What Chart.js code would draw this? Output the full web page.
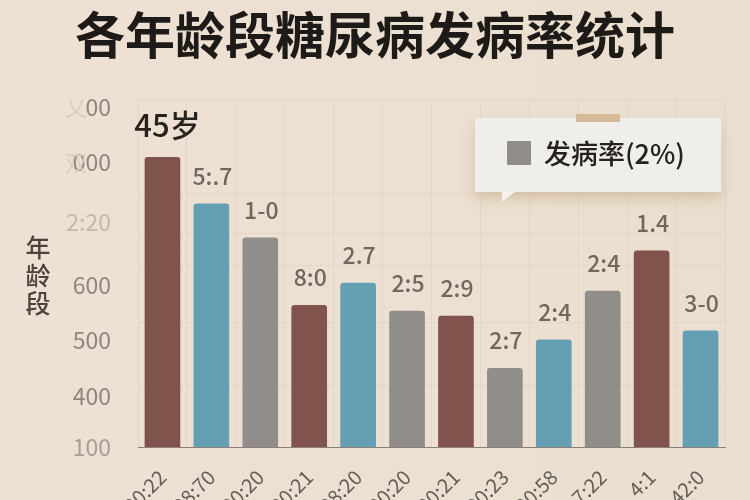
<!DOCTYPE html>
<html>
<head>
<meta charset="utf-8">
<title>各年龄段糖尿病发病率统计</title>
<script src="https://cdn.jsdelivr.net/npm/chart.js@4"></script>
<style>
html, body { margin: 0; padding: 0; width: 750px; height: 500px; overflow: hidden; }
body { background: linear-gradient(90deg, #efe0d4 0%, #ece0d2 50%, #eadfcf 100%); position: relative; font-family: "Noto Sans CJK SC", sans-serif; }
canvas { position: absolute; left: 0; top: 0; }
#legend { position: absolute; left: 475px; top: 118px; width: 246px; height: 74px; background: #f0eeea; box-shadow: 0 7px 12px rgba(190, 160, 125, 0.45); }
#legend .tape { position: absolute; left: 101px; top: -4px; width: 44px; height: 8px; background: #d4ba9b; }
#legend .tail { position: absolute; left: 27px; top: 74px; width: 0; height: 0; border-top: 10px solid #f5efe6; border-right: 13px solid transparent; }
#legend .swatch { position: absolute; left: 32px; top: 23px; width: 24px; height: 24px; background: #908d8b; border-radius: 1px; }
#legend .label { position: absolute; left: 69px; top: 17px; font-size: 27px; font-weight: 500; line-height: 36px; color: #24211e; white-space: nowrap; }
</style>
</head>
<body>
<canvas id="chart" width="750" height="500"></canvas>
<div id="legend"><div class="tape"></div><div class="tail"></div><div class="swatch"></div><div class="label">发病率(2%)</div></div>
<script>
const categories = ['00:22', '08:70', '00:20', '00:21', '08:20', '00:20', '00:21', '00:23', '00:58', '7:22', '4:1', '42:0'];
const rates = [811, 729, 669, 550, 589, 540, 531, 439, 489, 575, 646, 505];
const barLabels = ['45岁', '5:.7', '1-0', '8:0', '2.7', '2:5', '2:9', '2:7', '2:4', '2:4', '1.4', '3-0'];
const barColors = ['#80534d', '#659fb3', '#908d8b', '#80534d', '#659fb3', '#908d8b', '#80534d', '#908d8b', '#659fb3', '#908d8b', '#80534d', '#659fb3'];
const yTickValues = [300, 390, 489, 586, 697, 803, 900];
const yTickLabels = ['100', '400', '500', '600', '2:20', '000', '00'];
const yTickColors = ['#a79e93', '#8f877c', '#8f877c', '#8f877c', '#c4b9ab', '#8f877c', '#8f877c'];
const gridValues = [409, 520, 621, 677, 748, 914];
const ghostGlyphs = ['乂', '双'];

const font = '"Noto Sans CJK SC", "Noto Sans", sans-serif';

// values above the bars, the stacked axis title and the faint marks beside the ticks
const extras = {
    id: 'extras',
    afterDatasetsDraw(chart) {
        const ctx = chart.ctx;
        const bars = chart.getDatasetMeta(0).data;
        ctx.save();
        ctx.textAlign = 'center';
        bars.forEach((bar, i) => {
            if (i === 0) {
                ctx.font = '500 31px ' + font;
                ctx.fillStyle = '#26221e';
                ctx.fillText(barLabels[i], bar.x + 5, bar.y - 20);
            } else {
                ctx.font = '500 23px ' + font;
                ctx.fillStyle = '#6f685f';
                ctx.fillText(barLabels[i], bar.x + 1, bar.y - 19);
            }
        });
        ctx.font = '500 25px ' + font;
        ctx.fillStyle = '#4a443d';
        ['年', '龄', '段'].forEach((ch, i) => ctx.fillText(ch, 38, 257 + i * 28));
        ctx.font = '22px ' + font;
        ctx.fillStyle = '#d8cdbf';
        ghostGlyphs.forEach((ch, i) => ctx.fillText(ch, 76, 116 + i * 55));
        ctx.restore();
    }
};

new Chart(document.getElementById('chart'), {
    type: 'bar',
    data: {
        labels: categories,
        datasets: [{
            label: '发病率(2%)',
            data: rates,
            backgroundColor: barColors,
            barThickness: 35,
            borderRadius: { topLeft: 3, topRight: 3 },
            borderSkipped: 'bottom'
        }]
    },
    options: {
        responsive: false,
        animation: false,
        plugins: {
            legend: { display: false },
            tooltip: { enabled: false },
            title: {
                display: true,
                text: '各年龄段糖尿病发病率统计',
                color: '#1d1a17',
                font: { family: font, size: 50, weight: 'bold', lineHeight: 1.2 },
                padding: { top: 5, bottom: 34 }
            }
        },
        scales: {
            x: {
                afterFit(scale) { scale.height = 53; },
                grid: { color: '#e3d6c6', drawTicks: false },
                border: { color: '#8a8078', width: 1 },
                ticks: {
                    color: '#635e57',
                    font: { family: font, size: 20 },
                    minRotation: 45,
                    maxRotation: 45,
                    autoSkip: false,
                    padding: 18
                }
            },
            y: {
                min: 300,
                max: 914,
                afterFit(scale) { scale.width = 138; },
                afterBuildTicks(scale) { scale.ticks = yTickValues.map(value => ({ value })); },
                grid: { display: false },
                border: { display: false },
                ticks: {
                    padding: 19,
                    font: { family: font, size: 23 },
                    color: ctx => yTickColors[yTickValues.indexOf(ctx.tick.value)],
                    callback: value => yTickLabels[yTickValues.indexOf(value)]
                }
            },
            // hidden axis, carries the uneven horizontal grid lines and keeps the right margin
            gridY: {
                position: 'right',
                min: 300,
                max: 914,
                afterFit(scale) { scale.width = 25; },
                afterBuildTicks(scale) { scale.ticks = gridValues.map(value => ({ value })); },
                grid: { color: '#e3d6c6', drawTicks: false },
                border: { display: false },
                ticks: { display: false }
            }
        }
    },
    plugins: [extras]
});
</script>
</body>
</html>
